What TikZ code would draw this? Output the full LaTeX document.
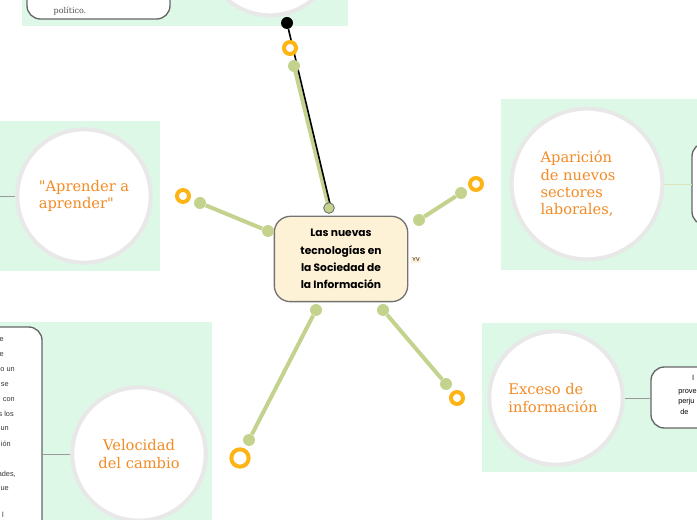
\documentclass[tikz,border=0pt]{standalone}
\usepackage{fontspec}
\setmainfont{Liberation Sans}
\newfontfamily\orfont{DejaVu Serif}
\newfontfamily\cenfont{Poppins}
\definecolor{gr}{HTML}{C3D38E}
\definecolor{orl}{HTML}{F38B25}
\definecolor{rg}{HTML}{FDB515}
\definecolor{pn}{HTML}{DDF8E7}
\definecolor{cr}{HTML}{FDF1D6}
\begin{document}
\begin{tikzpicture}[x=0.75pt,y=-0.75pt,
  panel/.style={fill=pn,draw=none},
  bigcirc/.style={circle,fill=white,draw=black!9,line width=3pt},
  olabel/.style={text=orl,font=\orfont\fontsize{11}{13}\selectfont,align=left},
  gline/.style={draw=gr,line width=3pt},
  gdot/.style={circle,fill=gr,minimum size=9pt,inner sep=0pt},
  ring/.style={circle,draw=rg,line width=3pt,fill=white,minimum size=9pt,inner sep=0pt},
  tbox/.style={draw=black!60,line width=1pt,rounded corners=10pt,fill=white},
  thin/.style={draw=black!40,line width=0.6pt},
  frag/.style={font=\fontsize{5.5}{6}\selectfont,text=black!80,anchor=east,inner sep=0pt}]
\useasboundingbox (0,0) rectangle (697,520);
\clip (0,0) rectangle (697,520);
% panels
\fill[panel] (22,-10) rectangle (348,26);
\fill[panel] (0,121) rectangle (160,271);
\fill[panel] (501,99) rectangle (697,270);
\fill[panel] (482,323) rectangle (697,472);
\fill[panel] (0,322) rectangle (212,530);
% top
\draw[tbox] (27,-30) rectangle (170,19);
\node[font=\orfont\fontsize{6}{7}\selectfont,text=black!70] (pol) at (70,11) {político.};
\node[bigcirc,minimum size=98pt] (ctop) at (270,-50) {};
% center
\node[draw=black!55,line width=1pt,fill=cr,rounded corners=12pt,minimum width=100pt,minimum height=64pt,align=center,font=\cenfont\bfseries\fontsize{8}{13}\selectfont] (c) at (341,259) {Las nuevas\\tecnologías en\\la Sociedad de\\la Información};
\node[fill=cr,font=\fontsize{4}{5}\selectfont,inner sep=1pt] (yv) at (416,260) {YV};
% top branch
\coordinate (ctopanchor) at (329,208);
\node[circle,fill=black,minimum size=9pt,inner sep=0pt] (bd) at (287,23) {};
\draw[gline] (294,66) -- (ctopanchor);
\draw[black,line width=1.2pt] (bd) -- (331,208);
\node[ring] (r1) at (290,48) {};
\node[gdot] (g1) at (294,66) {};
\node[gdot,draw=black!60,line width=0.6pt,minimum size=8pt] (g1b) at (329,208) {};
% left branch
\node[gdot] (g2a) at (268,231) {};
\node[gdot] (g2b) at (200,203) {};
\draw[gline] (g2a) -- (g2b);
\node[ring] (r2) at (183,196) {};
\node[bigcirc,minimum size=100pt] (cl) at (84,196) {};
\node[olabel] at (84,196) {"Aprender a\\aprender"};
\coordinate (le) at (0,196);
\draw[thin] (le) -- (cl.west);
% upper right
\node[gdot] (g3a) at (419,220) {};
\node[gdot] (g3b) at (461,193) {};
\draw[gline] (g3a) -- (g3b);
\node[ring] (r3) at (476,184) {};
\draw[tbox] (692,143) rectangle (760,225);
\node[bigcirc,minimum size=113pt] (cur) at (587,184) {};
\node[olabel] at (578,184) {Aparición\\de nuevos\\sectores\\laborales,};
\coordinate (ure) at (692,184);
\draw[draw=gr!60,line width=0.6pt] (cur.east) -- (ure);
% lower right
\node[gdot] (g4a) at (383,310) {};
\node[gdot] (g4b) at (446,384) {};
\draw[gline] (g4a) -- (g4b);
\node[ring] (r4) at (457,398) {};
\node[bigcirc,minimum size=100pt] (clr) at (556,398) {};
\node[olabel] at (553,398) {Exceso de\\información};
\draw[tbox] (651,367) rectangle (760,428);
\coordinate (lrb) at (651,398);
\draw[thin] (clr.east) -- (lrb);
\node[font=\fontsize{5.5}{6}\selectfont,anchor=west,inner sep=0pt,align=center] (lrt) at (692,378) {l};
\node[font=\fontsize{5.5}{8}\selectfont,anchor=west,inner sep=0pt,align=left] (lrt2) at (678,402) {prove\\perju\\ \ de};
% bottom left
\node[gdot] (g5a) at (316,310) {};
\node[gdot] (g5b) at (249,440) {};
\draw[gline] (g5a) -- (g5b);
\node[ring,minimum size=13pt] (r5) at (240,458) {};
\draw[tbox] (-40,327) rectangle (42,540);
\node[bigcirc,minimum size=100pt] (cbl) at (139,454) {};
\node[olabel,align=center] at (139,454) {Velocidad\\del cambio};
\coordinate (blb) at (42,454);
\draw[thin] (blb) -- (cbl.west);
\node[frag] at (4,340) {e};
\node[frag] at (4,355) {e};
\node[frag] at (15,370) {o un};
\node[frag] at (9,385) {se};
\node[frag] at (15,400) {con};
\node[frag] at (14,414) {s los};
\node[frag] at (9,429) {un};
\node[frag] at (11,444) {ión};
\node[frag] at (16,474) {ades,};
\node[frag] at (9,489) {ue};
\node[frag] at (4,515) {l};
\end{tikzpicture}
\end{document}
